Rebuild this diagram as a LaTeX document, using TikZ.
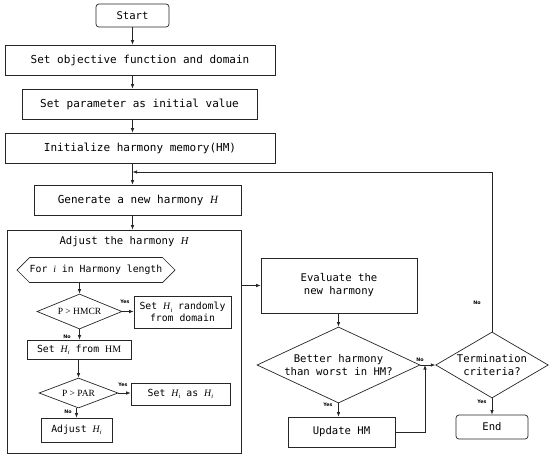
\documentclass[tikz,border=0pt]{standalone}
\usepackage{fontspec}
\setmainfont{DejaVu Sans Mono}
\newfontfamily\tms{Liberation Serif}
\newfontfamily\lblfont{DejaVu Sans}
\usetikzlibrary{arrows.meta,shapes.geometric,shapes.symbols}
\newcommand\HH{{\tms\itshape H}}
\newcommand\HHi{{\tms\itshape H\kern0.03em}\raisebox{-0.45ex}{\tms\itshape\fontsize{6.5}{7}\selectfont i}}
\begin{document}
\begin{tikzpicture}[x=1pt,y=-1pt,
  line width=0.7pt, draw=black!85,
  box/.style={draw=black!85, rectangle, fill=white, inner sep=0pt, font=\fontsize{11}{13}\selectfont},
  rbox/.style={box, rounded corners=3pt},
  sbox/.style={box, font=\fontsize{9.8}{12}\selectfont},
  mbox/.style={box, font=\fontsize{10.6}{13}\selectfont, align=center},
  dia/.style={draw=black!85, diamond, aspect=2, inner sep=0pt, fill=white, align=center},
  arr/.style={-{Latex[length=4.5pt,width=3.5pt]}},
  lbl/.style={font=\lblfont\bfseries\fontsize{4.8}{5}\selectfont, inner sep=0pt}
]
\useasboundingbox (0,0) rectangle (550,456);
% top column
\node[rbox, minimum width=73, minimum height=23, font=\fontsize{10.6}{13}\selectfont] (start) at (132.5,15.5) {Start};
\node[box, minimum width=270, minimum height=30] (obj) at (140,60) {Set objective function and domain};
\node[box, minimum width=235, minimum height=30] (par) at (139.5,104) {Set parameter as initial value};
\node[box, minimum width=270, minimum height=30] (init) at (140,148) {Initialize harmony memory(HM)};
\coordinate (loop) at (132.5,172);
\node[box, minimum width=207, minimum height=30] (gen) at (138,200) {Generate a new harmony \HH};
% big box
\node[draw=black!85, rectangle, minimum width=234, minimum height=223, inner sep=0pt] (adj) at (124,341.5) {};
\node[font=\fontsize{10.6}{13}\selectfont, inner sep=0pt] (adjt) at (124,242) {Adjust the harmony \HH};
\node[draw=black!85, signal, signal to=west and east, minimum width=158, minimum height=25, inner sep=0pt, font=\fontsize{9.8}{12}\selectfont] (hex) at (96,270) {For {\tms\itshape i} in Harmony length};
\node[dia, minimum width=85, minimum height=35, font=\tms\fontsize{9.5}{11}\selectfont] (hmcr) at (79.5,311.5) {P > HMCR};
\node[sbox, minimum width=97, minimum height=32, align=center] (rand) at (182.5,312) {Set \HHi{} randomly\\from domain};
\node[sbox, minimum width=104, minimum height=19] (fromhm) at (79,349.5) {Set \HHi{} from {\tms HM}};
\node[dia, minimum width=79, minimum height=30, font=\tms\fontsize{9.5}{11}\selectfont] (pardia) at (78.5,393) {P > PAR};
\node[sbox, minimum width=99, minimum height=22] (asbox) at (180.5,394) {Set \HHi{} as \HHi};
\node[sbox, minimum width=71, minimum height=24] (adjust) at (76.5,430) {Adjust \HHi};
% right part
\node[mbox, minimum width=156, minimum height=55] (eval) at (339,285.5) {Evaluate the\\new harmony};
\node[dia, minimum width=163, minimum height=76, font=\fontsize{10.6}{13}\selectfont] (better) at (338.5,365) {Better harmony\\than worst in HM?};
\node[mbox, minimum width=107, minimum height=30] (upd) at (341.5,432) {Update HM};
\node[dia, minimum width=108, minimum height=66, font=\fontsize{10.6}{13}\selectfont] (term) at (492,365) {Termination\\criteria?};
\node[rbox, minimum width=72, minimum height=24, font=\fontsize{10.6}{13}\selectfont] (end) at (492,427) {End};
\coordinate (merge) at (425,365);
% connectors
\draw[arr] (start.south) -- (obj.north -| start.south);
\draw[arr] (obj.south -| start.south) -- (par.north -| start.south);
\draw[arr] (par.south -| start.south) -- (init.north -| start.south);
\draw[arr] (init.south -| start.south) -- (gen.north -| start.south);
\draw[arr] (term.north) -- (term.north |- loop) -- (loop);
\draw[arr] (gen.south -| start.south) -- (adj.north -| start.south);
\draw[arr] (hex.south -| hmcr.north) -- (hmcr.north);
\draw[arr] (hmcr.east) -- (hmcr.east -| rand.west);
\draw[arr] (hmcr.south) -- (hmcr.south |- fromhm.north);
\draw[arr] (fromhm.south -| pardia.north) -- (pardia.north);
\draw[arr] (pardia.east) -- (pardia.east -| asbox.west);
\draw[arr] (pardia.south -| adjust.north) -- (adjust.north);
\draw[arr] (adj.east |- eval.west) -- (eval.west);
\draw[arr] (eval.south -| better.north) -- (better.north);
\draw[arr] (better.south) -- (better.south |- upd.north);
\draw[arr] (better.east) -- (term.west);
\draw[arr] (upd.east) -- (upd.east -| merge) -- (merge);
\draw[arr] (term.south) -- (end.north);
% labels
\node[lbl] at (125,302) {Yes};
\node[lbl] at (67,337) {No};
\node[lbl] at (123,385) {Yes};
\node[lbl] at (68,412) {No};
\node[lbl] at (328,405) {Yes};
\node[lbl] at (420,360) {No};
\node[lbl] at (482,402) {Yes};
\node[lbl] at (477,303) {No};
\end{tikzpicture}
\end{document}
